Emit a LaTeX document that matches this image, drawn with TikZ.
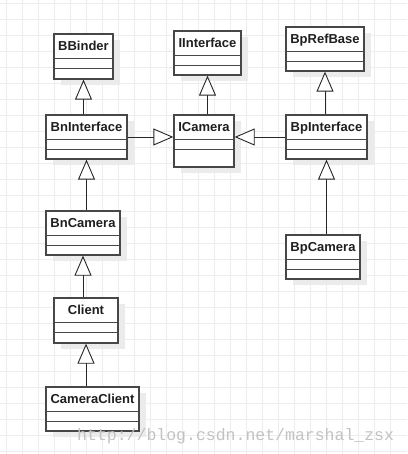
\documentclass[tikz,border=0pt]{standalone}
\usepackage{fontspec}
\setmainfont{Liberation Sans}
\setmonofont{Liberation Mono}
\usetikzlibrary{arrows.meta,shadows}

% one class box: name, left, top, width, height, title
\newcommand{\umlclass}[6]{%
	\node[classbox, minimum width=#4pt, minimum height=#5pt] (#1) at (#2+#4/2,#3+#5/2) {};
	\node[classname] at ([yshift=-17.3pt]#1.north) {#6};
	\draw[classline] ([yshift=-25pt]#1.north west) -- ([yshift=-25pt]#1.north east)
		([yshift=-35pt]#1.north west) -- ([yshift=-35pt]#1.north east);
}

\begin{document}
\begin{tikzpicture}[x=1pt,y=-1pt,
	gridline/.style={draw=black!7,line width=0.8pt},
	classbox/.style={draw=black!72,line width=1.3pt,fill=white,inner sep=0pt,
		drop shadow={shadow xshift=7pt,shadow yshift=-6pt,fill=black!8,opacity=1}},
	classline/.style={draw=black!72,line width=1.3pt},
	classname/.style={anchor=base,inner sep=0pt,text=black!88,
		font=\bfseries\fontsize{13}{15}\selectfont},
	inherit/.style={-{Triangle[fill=white,length=20pt,width=17pt]},line width=0.9pt,draw=black!85},
	watermark/.style={anchor=base west,inner sep=0pt,text=black!24,
		font=\ttfamily\fontsize{16.5}{18}\selectfont}]

	\useasboundingbox (0,0) rectangle (407,454);
	\fill[white] (0,0) rectangle (407,454);

	\foreach \gx in {6.7,22.7,...,406}
		\draw[gridline] (\gx,0) -- (\gx,454);
	\foreach \gy in {3,19,...,454}
		\draw[gridline] (0,\gy) -- (407,\gy);

	\umlclass{bbinder}{54}{34}{59}{45}{BBinder}
	\umlclass{iinterface}{174}{31}{67}{44}{IInterface}
	\umlclass{bprefbase}{286}{27}{78}{44}{BpRefBase}
	\umlclass{bninterface}{46}{115}{81}{44}{BnInterface}
	\umlclass{icamera}{174}{115}{60}{52}{ICamera}
	\umlclass{bpinterface}{286}{115}{81}{44}{BpInterface}
	\umlclass{bncamera}{46}{211}{74}{44}{BnCamera}
	\umlclass{bpcamera}{286}{235}{74}{44}{BpCamera}
	\umlclass{client}{54}{298}{64}{45}{Client}
	\umlclass{cameraclient}{46}{387}{93}{44}{CameraClient}

	\draw[inherit] (bbinder.south |- bninterface.north) -- (bbinder.south);
	\draw[inherit] (iinterface.south |- icamera.north) -- (iinterface.south);
	\draw[inherit] (bprefbase.south |- bpinterface.north) -- (bprefbase.south);
	\draw[inherit] (bninterface.east) -- (bninterface.east -| icamera.west);
	\draw[inherit] (bpinterface.west) -- (bpinterface.west -| icamera.east);
	\draw[inherit] (bninterface.south |- bncamera.north) -- (bninterface.south);
	\draw[inherit] (bpinterface.south |- bpcamera.north) -- (bpinterface.south);
	\draw[inherit] (bncamera.south |- client.north) -- (bncamera.south);
	\draw[inherit] (client.south |- cameraclient.north) -- (client.south);

	\node[watermark] (wm) at (77,440) {http://blog.csdn.net/marshal\_zsx};

\end{tikzpicture}
\end{document}
